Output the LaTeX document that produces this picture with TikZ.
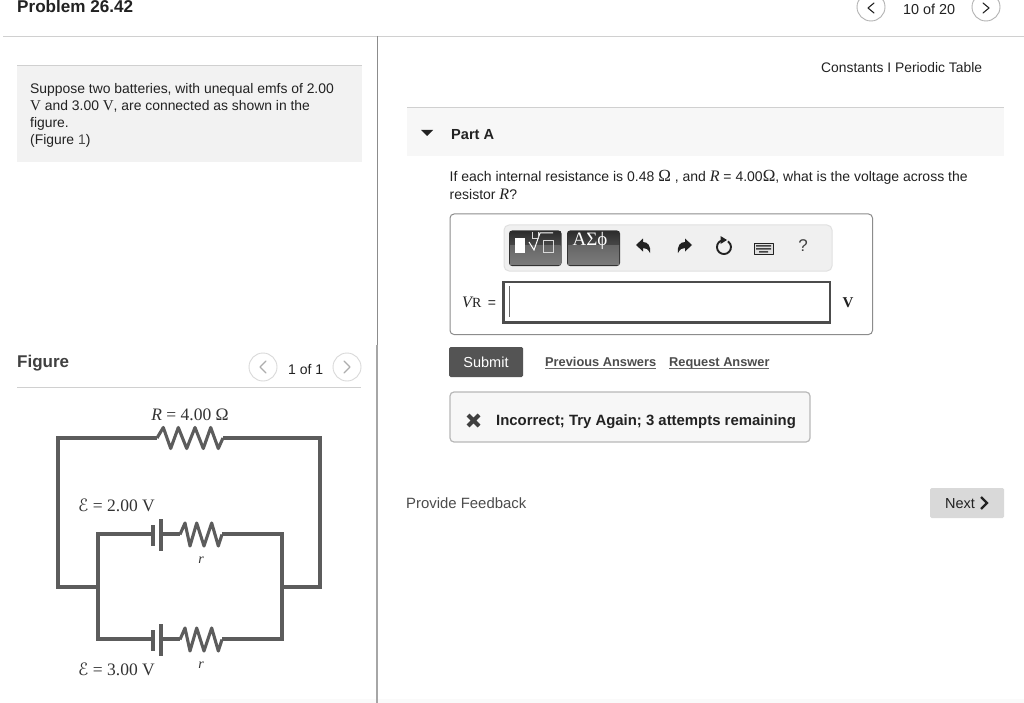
\documentclass[tikz,border=0pt]{standalone}
\usepackage{fontspec}
\setmainfont{Liberation Sans}
\newfontfamily\serifui{Liberation Serif}
\newfontfamily\symui{DejaVu Sans}
\usetikzlibrary{calc}
\definecolor{ink}{HTML}{222222}
\definecolor{wire}{HTML}{5C5C5C}
\definecolor{rulegray}{HTML}{D0D0D0}
\newcommand{\fs}[1]{\fontsize{#1}{#1}\selectfont}
\newcommand{\Om}{{\serifui\fs{17}Ω}}
\newcommand{\emf}{{\symui\itshape\fs{17}ℰ}}
\tikzset{
  x=1pt,y=-1pt,
  ui/.style={anchor=base west,yshift=-6pt,inner sep=0pt,text=ink,font=\fs{14}},
  uib/.style={ui,font=\fs{14}\bfseries},
  fig/.style={inner sep=0pt,text=black!80,font=\serifui\fs{17.5}},
  wirepath/.style={draw=wire,line width=3.1pt,line join=miter,line cap=butt},
  sep/.style={draw=rulegray,line width=1.2pt},
  circbtn/.style={circle,draw=#1,fill=white,line width=0.9pt,minimum size=28pt,inner sep=0pt},
  chev/.style={draw=#1,line width=1.1pt,line cap=round,line join=round},
  plate/.style={draw=wire,line width=3.1pt},
}
\newcommand{\zigtop}[2]{%
  \draw[wirepath,line join=round] (157,#1)
  \foreach \px/\s in {163.3/-1,170.7/1,178.3/-1,186.7/1,195/-1,203.3/1,210.7/-1,218.3/1}{
    -- (\px,{#1+\s*#2})
  } -- (223,#1);}
\newcommand{\ziginner}[2]{%
  \draw[wirepath,line join=round] (180,#1)
  \foreach \px/\s in {185/-1,190/1,196.7/-1,204/1,211.7/-1,218.3/1}{
    -- (\px,{#1+\s*#2})
  } -- (222,#1);}
\begin{document}
\begin{tikzpicture}
\useasboundingbox (0,0) rectangle (1024,703);
\fill[white] (0,0) rectangle (1024,703);
\fill[black!2] (200,699) rectangle (1024,703);
% ---- header
\node[uib,font=\fs{17.1}\bfseries] (title) at (17,7) {Problem 26.42};
\node[ui,font=\fs{14.4}] (pager) at (903,9) {10 of 20};
\node[circbtn=black!30] (prevq) at (871,7) {};
\node[circbtn=black!30] (nextq) at (986,7) {};
\draw[chev=ink] (874,3) -- (868,8) -- (874,13);
\draw[chev=ink] (983,3) -- (989,8) -- (983,13);
\draw[sep] (3,36.5) -- (1024,36.5);
\draw[draw=black!45,line width=1pt] (377.5,36) -- (377.5,345);
\draw[draw=black!35,line width=2pt] (377,345) -- (377,703);
% ---- problem box
\fill[black!5] (17,65) rectangle (362,162);
\draw[sep] (17,65.5) -- (362,65.5);
\node[ui,font=\fs{13.9}] (t1) at (30,88) {Suppose two batteries, with unequal emfs of 2.00};
\node[ui,font=\fs{13.9}] (t2) at (30,105) {{\serifui\fs{15}V} and 3.00 {\serifui\fs{15}V}, are connected as shown in the};
\node[ui,font=\fs{13.9}] (t3) at (30,122) {figure.};
\node[ui,font=\fs{13.9}] (t4) at (30,139) {(Figure {\color{black!70}1})};
% ---- figure head
\node[uib,font=\fs{17}\bfseries,text=black!75] (figh) at (17,361) {Figure};
\node[circbtn=black!15] (pf) at (263,367) {};
\node[circbtn=black!15] (nf) at (347,367) {};
\draw[chev=black!32] (266,361) -- (260,367) -- (266,373);
\draw[chev=black!32] (344,361) -- (350,367) -- (344,373);
\node[ui] (of) at (288,368) {1 of 1};
\draw[sep] (17,387.5) -- (361,387.5);
% ---- circuit
\coordinate (A) at (58,587);
\coordinate (B) at (58,438);
\coordinate (C) at (157,438);
\coordinate (D) at (223,438);
\coordinate (E) at (320,438);
\coordinate (F) at (320,587);
\coordinate (G) at (282,587);
\coordinate (H) at (98,587);
\draw[wirepath] (H) -- (A) -- (B) -- (C);
\draw[wirepath] (D) -- (E) -- (F) -- (G);
\zigtop{438}{10.5}
\coordinate (I1) at (98,534);
\coordinate (I2) at (153,534);
\coordinate (I3) at (161,534);
\coordinate (I4) at (180,534);
\coordinate (I5) at (222,534);
\coordinate (I6) at (282,534);
\draw[wirepath] (I2) -- (I1) -- (98,639) -- (153,639);
\draw[wirepath] (I3) -- (I4);
\ziginner{534.5}{11.5}
\draw[wirepath] (I5) -- (I6) -- (282,639) -- (222,639);
\draw[wirepath] (161,639) -- (180,639);
\ziginner{639.5}{11.5}
\draw[plate] (153,525) -- (153,546);
\draw[plate] (161,519) -- (161,551);
\draw[plate] (153,630) -- (153,651);
\draw[plate] (161,624) -- (161,656);
\node[fig] (rl) at (190,415) {\textit{R} = 4.00 Ω};
\node[fig] (e1) at (116.5,505.5) {\emf{} = 2.00 V};
\node[fig] (e2) at (116.5,669.5) {\emf{} = 3.00 V};
\node[fig,font=\serifui\itshape\fs{14}] (r1) at (201,560) {r};
\node[fig,font=\serifui\itshape\fs{14}] (r2) at (201,665) {r};
% ---- right column
\node[ui,font=\fs{13.85}] (links) at (821,67) {Constants I Periodic Table};
\fill[black!3] (407,107) rectangle (1004,156);
\draw[sep] (407,107.5) -- (1004,107.5);
\fill[ink] (421,130) -- (433,130) -- (427,136) -- cycle;
\node[uib,font=\fs{14.6}\bfseries] (pa) at (451,134) {Part A};
\node[ui] (q1) at (449.5,176) {If each internal resistance is 0.48 \Om{} , and {\serifui\itshape\fs{16}R} = 4.00\Om, what is the voltage across the};
\node[ui] (q2) at (449.5,193.5) {resistor {\serifui\itshape\fs{16}R}?};
% ---- answer box
\draw[draw=black!45,line width=1pt,rounded corners=4pt,fill=white] (450,214) rectangle (872.5,334.5);
\draw[draw=black!12,fill=black!6,line width=1pt,rounded corners=5pt] (504,225) rectangle (832,271);
\foreach \a/\b in {509/561.5,567/620}{
  \fill[black!80,rounded corners=3pt] (\a,230.5) rectangle (\b,266);
  \shade[top color=black!82,bottom color=black!72] (\a+1,232) rectangle (\b-1,245);
  \shade[top color=black!60,bottom color=black!52] (\a+1,245) rectangle (\b-1,264);
}
\fill[white] (515,238) rectangle (525,252.5);
\draw[draw=black!15,line width=0.9pt] (543,240) rectangle (553,252);
\draw[draw=white,line width=1pt] (529,242) -- (534,250) -- (540,233) -- (553,233);
\draw[draw=black!15,line width=0.8pt] (532.5,232) -- (532.5,238) -- (538,238) -- (538,232);
\node[inner sep=0pt,text=white,font=\serifui\fs{19}] (greek) at (590,241) {ΑΣϕ};
\begin{scope}[line join=round]
 \fill[ink] (636,245) -- (643,238.5) -- (643,242) .. controls (648,242) and (651,246) .. (650,253) .. controls (648,249) and (646,248) .. (643,248) -- (643,251.5) -- cycle;
 \fill[ink] (692,245) -- (685,238.5) -- (685,242) .. controls (680,242) and (677,246) .. (678,253) .. controls (680,249) and (682,248) .. (685,248) -- (685,251.5) -- cycle;
 \draw[ink,line width=1.9pt] (721,240.7) arc[start angle=-115,end angle=-415,radius=7];
 \fill[ink] (720.5,236) -- (727,240) -- (720.5,244) -- cycle;
 \draw[ink,line width=0.9pt,fill=black!12] (754,243) rectangle (773,254);
 \fill[ink!85] (756,245) rectangle (771,246.5) (756,248) rectangle (771,249.5) (759,251) rectangle (768,252.5);
\end{scope}
\node[inner sep=0pt,text=black!75,font=\fs{17}] (help) at (803,246) {?};
\draw[draw=black!70,line width=2.2pt,fill=white] (503.5,282) rectangle (830,322.5);
\draw[draw=black!60,line width=1pt] (509.5,286) -- (509.5,317);
\node[inner sep=0pt,anchor=west,text=ink,font=\serifui\fs{16}] (vr) at (462,302.5) {\textit{V}{\fs{14}\kern-1.5pt R}\,{\fontspec{Liberation Sans}\fs{14} =}};
\node[inner sep=0pt,text=ink,font=\serifui\bfseries\fs{15}] (vu) at (848,303) {V};
% ---- buttons
\node[draw=none,fill=black!67,rounded corners=1.5pt,minimum width=74pt,minimum height=30pt,inner sep=0pt,text=white,font=\fs{14.5}] (sub) at (486,362) {Submit};
\node[ui,font=\fs{12.8}\bfseries,text=black!70] (prev) at (545,360.5) {Previous Answers};
\node[ui,font=\fs{12.8}\bfseries,text=black!70] (req) at (669,360.5) {Request Answer};
\draw[black!60,line width=.8pt] (545,368.5) -- (656,368.5) (669,368.5) -- (769,368.5);
\draw[draw=black!28,fill=black!3,line width=1.2pt,rounded corners=4pt] (450,392) rectangle (810,442);
\draw[draw=black!75,line width=4pt] (468,415) -- (479,426) (479,415) -- (468,426);
\node[uib,font=\fs{14.9}\bfseries] (inc) at (496,419.5) {Incorrect; Try Again; 3 attempts remaining};
\node[ui,font=\fs{14.9},text=black!70] (fb) at (406,502) {Provide Feedback};
\fill[black!15,rounded corners=1.5pt] (930,488) rectangle (1004,518);
\node[ui,font=\fs{14.5}] (nx) at (945,502) {Next};
\draw[ink,line width=2.2pt,line join=miter] (981,497) -- (987,503) -- (981,509);
\end{tikzpicture}
\end{document}
